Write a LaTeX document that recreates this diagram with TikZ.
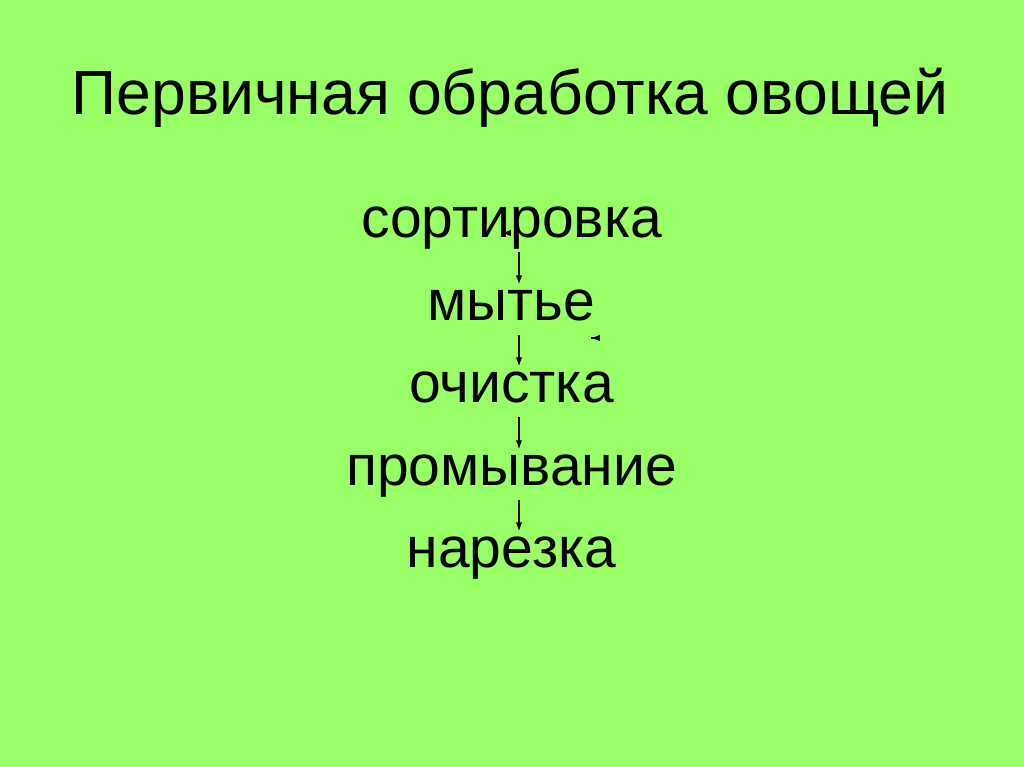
\documentclass[tikz,border=0pt]{standalone}
\usepackage{fontspec}
\setmainfont{Liberation Sans}
\usetikzlibrary{arrows.meta}
\definecolor{slidegreen}{HTML}{99FF66}
\begin{document}
\begin{tikzpicture}[>={Latex[length=9pt,width=6.5pt]}, line width=1.3pt,
    title/.style={anchor=base, font=\fontsize{62.5}{66}\selectfont},
    item/.style={anchor=base, inner sep=0pt, text height=36pt, text depth=13pt, font=\fontsize{57}{60}\selectfont}]
    \fill[slidegreen] (0pt,0pt) rectangle (1024pt,767pt);
    \useasboundingbox (0pt,0pt) rectangle (1024pt,767pt);
    \node[title] at (510pt,652pt) (T) {Первичная обработка овощей};
    \node[item] at (511.5pt,529pt) (S1) {сортировка};
    \node[item] at (511.5pt,446pt) (S2) {мытье};
    \node[item] at (511.5pt,364pt) (S3) {очистка};
    \node[item] at (511.5pt,281pt) (S4) {промывание};
    \node[item] at (511.5pt,199pt) (S5) {нарезка};
    \coordinate (A) at (502pt,534pt);
    \coordinate (B) at (591pt,429pt);
    \draw[->] ([xshift=7.5pt]S1.south) -- ([xshift=7.5pt]S2.north);
    \draw[->] ([xshift=7.5pt]S2.south) -- ([xshift=7.5pt]S3.north);
    \draw[->] ([xshift=7.5pt]S3.south) -- ([xshift=7.5pt]S4.north);
    \draw[->] ([xshift=7.5pt]S4.south) -- ([xshift=7.5pt]S5.north);
    \draw[->] (A) -- ++(-0.1pt,0pt);
    \draw[->] (B) -- ++(-0.1pt,0pt);
\end{tikzpicture}
\end{document}
